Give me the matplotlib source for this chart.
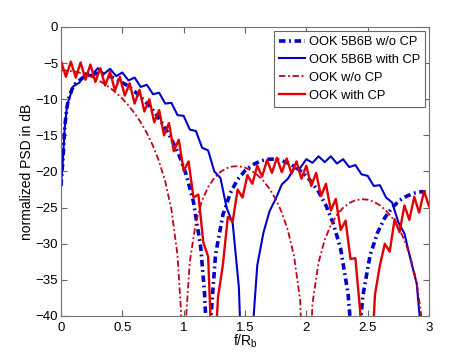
import matplotlib
matplotlib.use("Agg")
import matplotlib.pyplot as plt

plt.rcParams['font.family'] = ['Liberation Sans', 'DejaVu Sans']

# OOK 5B6B w/o CP
f_5b6b = [0, 0.015, 0.03, 0.045, 0.06, 0.09, 0.12, 0.18, 0.24, 0.30,
          0.36, 0.42, 0.48, 0.54, 0.60, 0.66, 0.72, 0.78, 0.84, 0.90,
          0.96, 1.02, 1.08, 1.14, 1.17, 1.18, 1.20, 1.22, 1.26, 1.32,
          1.38, 1.44, 1.50, 1.56, 1.62, 1.68, 1.74, 1.80, 1.86, 1.92,
          1.98, 2.04, 2.10, 2.16, 2.22, 2.28, 2.34, 2.37, 2.40, 2.43,
          2.46, 2.52, 2.58, 2.64, 2.70, 2.76, 2.82, 2.88, 2.94, 3.00]
psd_5b6b = [-22, -18.5, -14, -11.5, -10.0, -8.6, -7.8, -7.0, -6.6, -6.4,
            -6.6, -7.0, -7.5, -8.1, -8.9, -9.9, -10.9, -12.2, -13.7, -15.5,
            -17.6, -20.4, -24.2, -30.6, -36.8, -40.4, -60, -40.7, -31.5, -26.0,
            -23.0, -21.1, -19.9, -19.1, -18.6, -18.3, -18.3, -18.5, -18.9, -19.5,
            -20.3, -21.4, -22.8, -24.7, -27.2, -30.7, -36.9, -43.0, -60, -43.2,
            -37.3, -31.6, -28.5, -26.4, -25.0, -24.0, -23.4, -23.0, -22.8, -22.9]

# OOK 5B6B with CP
f_5b6b_cp = [0, 0.015, 0.03, 0.05, 0.10, 0.15, 0.20, 0.25, 0.30, 0.35,
             0.40, 0.45, 0.50, 0.55, 0.60, 0.65, 0.70, 0.75, 0.80, 0.85,
             0.90, 0.95, 1.00, 1.05, 1.10, 1.15, 1.20, 1.25, 1.30, 1.35,
             1.40, 1.45, 1.50, 1.55, 1.60, 1.65, 1.70, 1.75, 1.80, 1.85,
             1.90, 1.95, 2.00, 2.05, 2.10, 2.15, 2.20, 2.25, 2.30, 2.35,
             2.40, 2.45, 2.50, 2.55, 2.60, 2.65, 2.70, 2.75, 2.80, 2.85,
             2.90, 2.95, 3.00]
psd_5b6b_cp = [-22, -18.5, -14, -10.8, -8.2, -7.7, -6.4, -6.7, -5.7, -6.5,
               -5.8, -6.8, -6.3, -7.4, -7.0, -8.3, -8.0, -9.3, -9.1, -10.6,
               -10.5, -12.2, -12.3, -14.2, -14.4, -16.7, -17.1, -20.0, -20.9, -25.0,
               -27.2, -36.0, -60, -45, -33, -28.5, -25.5, -23.8, -21.8, -21.0,
               -19.6, -19.5, -18.3, -18.8, -17.9, -18.7, -17.9, -18.9, -18.3, -19.4,
               -19.1, -20.4, -20.6, -22.0, -21.9, -23.6, -24.3, -27.0, -28.6, -32.2,
               -35.5, -45, -60]

# OOK w/o CP
f_ook = [0, 0.05, 0.10, 0.15, 0.20, 0.25, 0.30, 0.35, 0.40, 0.45,
         0.50, 0.55, 0.60, 0.65, 0.70, 0.75, 0.80, 0.85, 0.90, 0.95,
         0.98, 1.00, 1.02, 1.05, 1.10, 1.15, 1.20, 1.25, 1.30, 1.35,
         1.40, 1.45, 1.50, 1.55, 1.60, 1.65, 1.70, 1.75, 1.80, 1.85,
         1.90, 1.95, 2.00, 2.05, 2.10, 2.15, 2.20, 2.25, 2.30, 2.35,
         2.40, 2.45, 2.50, 2.55, 2.60, 2.65, 2.70, 2.75, 2.80, 2.85,
         2.90, 2.95, 3.00]
psd_ook = [-6.0, -6.04, -6.14, -6.32, -6.58, -6.91, -7.33, -7.83, -8.42, -9.12,
           -9.92, -10.86, -11.94, -13.20, -14.69, -16.45, -18.62, -21.39, -25.23, -31.61,
           -39.8, -60, -40.2, -32.48, -26.97, -24.02, -22.14, -20.89, -20.06, -19.55,
           -19.30, -19.28, -19.46, -19.86, -20.46, -21.30, -22.39, -23.81, -25.66, -28.15,
           -31.72, -37.86, -60, -38.29, -32.59, -29.45, -27.41, -26.00, -25.02, -24.37,
           -23.98, -23.83, -23.90, -24.18, -24.68, -25.41, -26.41, -27.74, -29.50, -31.90,
           -35.39, -41.45, -60]

# OOK with CP
f_ook_cp = [0.00, 0.04, 0.08, 0.12, 0.16, 0.20, 0.24, 0.28, 0.32, 0.36,
            0.40, 0.44, 0.48, 0.52, 0.56, 0.60, 0.64, 0.68, 0.72, 0.76,
            0.80, 0.84, 0.88, 0.92, 0.96, 1.00, 1.04, 1.08, 1.12, 1.16,
            1.20, 1.24, 1.28, 1.32, 1.36, 1.40, 1.44, 1.48, 1.52, 1.56,
            1.60, 1.64, 1.68, 1.72, 1.76, 1.80, 1.84, 1.88, 1.92, 1.96,
            2.00, 2.04, 2.08, 2.12, 2.16, 2.20, 2.24, 2.28, 2.32, 2.36,
            2.40, 2.44, 2.48, 2.52, 2.56, 2.60, 2.64, 2.68, 2.72, 2.76,
            2.80, 2.84, 2.88, 2.92, 2.96, 3.00]
psd_ook_cp = [-4.7, -6.9, -4.8, -7.0, -4.9, -7.3, -5.2, -7.6, -5.7, -8.1,
              -6.2, -8.8, -6.9, -9.5, -7.8, -10.6, -8.7, -11.7, -10.0, -13.2,
              -11.5, -15.0, -13.3, -17.2, -15.6, -19.9, -18.6, -23.6, -23.2, -29.8,
              -31.8, -50, -37.4, -32.9, -26.3, -26.9, -22.5, -23.6, -20.5, -21.7,
              -19.2, -20.7, -18.4, -20.2, -18.1, -20.1, -18.2, -20.3, -18.6, -21.0,
              -19.2, -22.0, -20.2, -23.4, -21.7, -25.4, -23.8, -28.1, -26.8, -32.1,
              -32.0, -39.5, -50, -50, -37.0, -33.0, -30.0, -31.1, -26.6, -28.4,
              -24.7, -26.7, -23.5, -25.7, -22.7, -24.8]

labels = ["OOK 5B6B w/o CP", "OOK 5B6B with CP", "OOK w/o CP", "OOK with CP"]
blue = "#0000C8"
red = "#E00000"

fig = plt.figure(figsize=(4.74, 3.55), dpi=100)
ax = fig.add_axes([0.1287, 0.1099, 0.7763, 0.8141])

ax.plot(f_5b6b, psd_5b6b, "-.", color=blue, lw=2.6, dashes=[1.8, 1.0, 0.5, 1.0],
        label=labels[0])
ax.plot(f_5b6b_cp, psd_5b6b_cp, "-", color=blue, lw=1.5, solid_joinstyle="round",
        label=labels[1])
ax.plot(f_ook, psd_ook, "-.", color="#C40018", lw=1.3, dashes=[3.5, 1.5, 1.0, 1.5],
        label=labels[2])
ax.plot(f_ook_cp, psd_ook_cp, "-", color=red, lw=1.7, solid_joinstyle="round",
        label=labels[3])

ax.set_xlim(0, 3)
ax.set_ylim(-40, 0)
ax.set_xticks([0, 0.5, 1, 1.5, 2, 2.5, 3])
ax.set_xticklabels(["0", "0.5", "1", "1.5", "2", "2.5", "3"])
ax.set_yticks(range(-40, 1, 5))
ax.tick_params(direction="in", top=True, right=True, length=4,
               labelsize=9.5, color="0.4")
ax.tick_params(axis="y", pad=2)
ax.tick_params(axis="x", pad=4)
for s in ax.spines.values():
    s.set_color("0.45")
    s.set_linewidth(0.8)

ax.set_xlabel("f/R$_\\mathregular{b}$", fontsize=10, labelpad=-1)
ax.set_ylabel("normalized PSD in dB", fontsize=10, labelpad=1)

leg = ax.legend(loc="upper right", fontsize=9.3, handlelength=2.0,
                labelspacing=0.45, borderaxespad=0.3, fancybox=False,
                framealpha=1, handletextpad=0.3, borderpad=0.4)
leg.get_frame().set_edgecolor("0.4")
leg.get_frame().set_linewidth(0.8)

plt.savefig("out.png", dpi=100)
